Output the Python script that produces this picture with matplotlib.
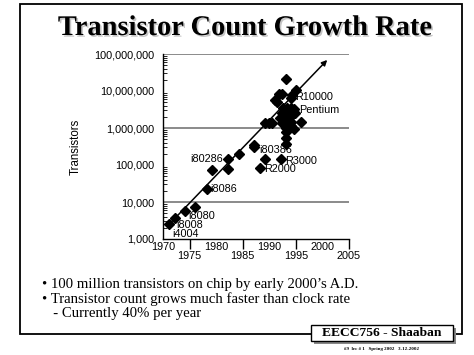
import matplotlib

matplotlib.use("Agg")

import matplotlib.pyplot as plt
import matplotlib.patheffects as pe
from matplotlib.patches import Rectangle
from matplotlib.ticker import FixedLocator, LogLocator, NullFormatter

# microprocessor transistor counts
years = [
    1971.1, 1972.2, 1974.1, 1976.1, 1978.2, 1979.3, 1982.3, 1982.3, 1984.3,
    1987.2, 1987.2, 1988.2, 1989.2, 1992.2, 1989.2, 1989.9, 1990.5, 1991.1,
    1991.5, 1991.8, 1992.4, 1993.1, 1995.1, 1994.3, 1994.1, 1992.6, 1993.3,
    1994.0, 1994.6, 1992.3, 1993.2, 1994.1, 1994.9, 1992.1, 1993.0, 1993.9,
    1995.9, 1992.4, 1993.3, 1994.1, 1993.2, 1994.0, 1994.6, 1993.2, 1993.2,
    1993.2,
]
counts = [
    2600, 3800, 5800, 7400, 23000, 74000, 145000, 78000, 200000,
    350000, 300000, 85000, 145000, 145000, 1.35e6, 1.35e6, 1.35e6, 5.8e6,
    5.2e6, 8.1e6, 8.1e6, 2.1e7, 1.05e7, 7.6e6, 6.4e6, 3.4e6, 3.4e6,
    3.4e6, 3.2e6, 2.5e6, 2.5e6, 2.5e6, 2.6e6, 1.9e6, 1.9e6, 1.95e6,
    1.45e6, 1.35e6, 1.35e6, 1.45e6, 1.0e6, 1.1e6, 0.95e6, 8.0e5, 5.4e5,
    3.7e5,
]

chip_names = ["i4004", "i8008", "i8080", "i8086", "i80286", "i80386",
              "R2000", "R3000", "R10000", "Pentium"]
chip_years = [1971.1, 1972.2, 1974.1, 1978.2, 1982.3, 1987.2,
              1988.2, 1992.2, 1994.3, 1994.6]
chip_counts = [2600, 3800, 5800, 23000, 145000, 300000,
               85000, 145000, 7.6e6, 3.2e6]

trend_years = [1971.1, 2000.9]
trend_counts = [2450, 6.9e7]

grid_levels = [1e4, 1e6, 1e8]
y_ticks = [1e3, 1e4, 1e5, 1e6, 1e7, 1e8]
y_labels = ["1,000", "10,000", "100,000", "1,000,000", "10,000,000", "100,000,000"]
x_high = [1970, 1980, 1990, 2000]
x_low = [1975, 1985, 1995, 2005]

bullets = [
    "\u2022 100 million transistors on chip by early 2000\u2019s A.D.",
    "\u2022 Transistor count grows much faster than clock rate",
    "   - Currently 40% per year",
]

# label offsets in pixels (dx, dy, ha)
label_style = {
    "i4004": (3, -10, "left"),
    "i8008": (2, -7, "left"),
    "i8080": (3, -5, "left"),
    "i8086": (4, 0, "left"),
    "i80286": (-5, 0, "right"),
    "i80386": (5, -3, "left"),
    "R2000": (4, -1, "left"),
    "R3000": (4, -1.5, "left"),
    "R10000": (3, -2, "left"),
    "Pentium": (5, -1, "left"),
}

sans = "Liberation Sans"
serif = "Liberation Serif"

fig = plt.figure(figsize=(4.74, 3.55), dpi=100)
W, H = 474, 355

# slide frame
fig.patches.append(Rectangle((20 / W, 1 - 334 / H), 442 / W, 330 / H,
                             transform=fig.transFigure, fill=False,
                             edgecolor="black", linewidth=1.3))

fig.text(245 / W, 1 - 35 / H, "Transistor Count Growth Rate",
         ha="center", va="baseline", fontsize=20.5, fontweight="bold",
         family=serif,
         path_effects=[pe.withSimplePatchShadow(offset=(1.2, -1.2),
                                                shadow_rgbFace="gray", alpha=0.45)])

ax = fig.add_axes([163 / W, 1 - 239 / H, 186 / W, 185 / H])
ax.set_yscale("log")
ax.set_xlim(1970, 2005)
ax.set_ylim(1e3, 1e8)

for lvl in grid_levels:
    ax.axhline(lvl, color="#777777", linewidth=1.2, zorder=1)

ax.plot(years, counts, linestyle="none", marker="D", markersize=4.8,
        color="black", zorder=3)

ax.annotate("", xy=(trend_years[1], trend_counts[1]),
            xytext=(trend_years[0], trend_counts[0]),
            arrowprops=dict(arrowstyle="-|>", color="black", lw=1.1,
                            mutation_scale=8, shrinkA=0, shrinkB=0), zorder=2)

for name, x, y in zip(chip_names, chip_years, chip_counts):
    dx, dy, ha = label_style[name]
    ax.annotate(name, (x, y), xytext=(dx, dy), textcoords="offset pixels",
                ha=ha, va="center", fontsize=7.8, family=sans, zorder=4)

for side in ["top", "right"]:
    ax.spines[side].set_visible(False)
ax.spines["left"].set_linewidth(1.0)
ax.spines["bottom"].set_linewidth(1.0)

ax.yaxis.set_major_locator(FixedLocator(y_ticks))
ax.set_yticklabels(y_labels, fontsize=7.8, family=sans)
ax.yaxis.set_minor_locator(LogLocator(base=10, subs=range(2, 10)))
ax.yaxis.set_minor_formatter(NullFormatter())
ax.tick_params(axis="y", which="major", direction="in", length=0, pad=6)
ax.tick_params(axis="y", which="minor", direction="in", length=3, width=0.6)

ax.set_xticks(x_low)
ax.set_xticklabels([str(v) for v in x_low], fontsize=7.8, family=sans)
ax.set_xticks(x_high, minor=True)
ax.set_xticklabels([str(v) for v in x_high], minor=True, fontsize=7.8, family=sans)
ax.tick_params(axis="x", which="major", direction="out", length=7, width=1.0, pad=1.5)
ax.tick_params(axis="x", which="minor", length=0, pad=2.5)

ax.set_ylabel("Transistors", fontsize=8.3, family=sans, labelpad=10)
ax.yaxis.set_label_coords(-0.435, 0.5)

# bullet text
for i, line in enumerate(bullets):
    fig.text(42 / W, 1 - (288 + 14.5 * i) / H, line, ha="left", va="baseline",
             fontsize=10.6, family=serif)

# footer box with shadow
fig.patches.append(Rectangle((314 / W, 1 - 344 / H), 142 / W, 16 / H,
                             transform=fig.transFigure, facecolor="#888888",
                             edgecolor="none"))
fig.patches.append(Rectangle((311 / W, 1 - 341 / H), 142 / W, 16 / H,
                             transform=fig.transFigure, facecolor="white",
                             edgecolor="black", linewidth=1.0))
fig.text(382 / W, 1 - 333 / H, "EECC756 - Shaaban", ha="center", va="center",
         fontsize=9.7, fontweight="bold", family=serif)
fig.text(381 / W, 1 - 349 / H, "#9  lec # 1   Spring 2002   3-12-2002",
         ha="center", va="center", fontsize=3.6, fontweight="bold", family=serif)

fig.savefig("out.png", dpi=100)
